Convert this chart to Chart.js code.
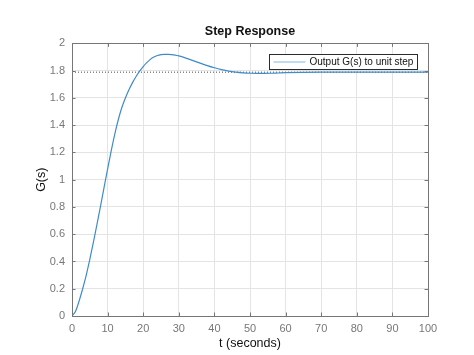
<!DOCTYPE html>
<html>
<head>
<meta charset="utf-8">
<script src="https://cdn.jsdelivr.net/npm/chart.js@4/dist/chart.umd.min.js"></script>
<style>
html,body{margin:0;padding:0;background:#fff;}
#wrap{position:relative;width:474px;height:355px;}
</style>
</head>
<body>
<div id="wrap"><canvas id="c" width="474" height="355"></canvas></div>
<script>
// ---- data ----
const chartTitle = "Step Response";
const xTitle = "t (seconds)";
const yTitle = "G(s)";
const seriesLabel = "Output G(s) to unit step";
const timeValues = [0,1,2,3,4,5,6,7,8,9,10,11,12,13,14,15,16,17,18,19,20,21,22,23,24,25,26,27,28,29,30,32,34,36,38,40,42,44,46,48,50,52,54,56,58,60,65,70,75,80,85,90,95,100];
const responseValues = [0,0.035,0.11,0.2,0.3,0.415,0.54,0.67,0.805,0.942,1.078,1.21,1.333,1.44,1.53,1.6,1.66,1.712,1.757,1.796,1.83,1.859,1.883,1.9,1.911,1.917,1.92,1.92,1.918,1.914,1.908,1.892,1.874,1.855,1.837,1.821,1.807,1.796,1.789,1.784,1.781,1.78,1.78,1.781,1.783,1.785,1.788,1.789,1.789,1.789,1.789,1.789,1.789,1.789];
const steadyState = 1.789;
const xTicks = [0,10,20,30,40,50,60,70,80,90,100];
const yTicks = [0,0.2,0.4,0.6,0.8,1,1.2,1.4,1.6,1.8,2];

const curve = timeValues.map((t,i)=>({x:t,y:responseValues[i]}));
const ssLine = [{x:xTicks[0],y:steadyState},{x:xTicks[xTicks.length-1],y:steadyState}];

const boxPlugin = {
  id:'matlabBox',
  afterDraw(chart){
    const {ctx, chartArea:a, scales} = chart;
    ctx.save();
    ctx.strokeStyle = '#767676';
    ctx.lineWidth = 1;
    ctx.strokeRect(Math.round(a.left)+0.5, Math.round(a.top)+0.5, Math.round(a.right-a.left), Math.round(a.bottom-a.top));
    const L = 3.5;
    ctx.beginPath();
    xTicks.forEach(v=>{
      const px = Math.round(scales.x.getPixelForValue(v))+0.5;
      ctx.moveTo(px,a.bottom); ctx.lineTo(px,a.bottom-L);
      ctx.moveTo(px,a.top); ctx.lineTo(px,a.top+L);
    });
    yTicks.forEach(v=>{
      const py = Math.round(scales.y.getPixelForValue(v))+0.5;
      ctx.moveTo(a.left,py); ctx.lineTo(a.left+L,py);
      ctx.moveTo(a.right,py); ctx.lineTo(a.right-L,py);
    });
    ctx.stroke();
    // legend
    const lw = 148, lh = 15;
    const lx = Math.round(a.right - 11 - lw)+0.5, ly = Math.round(a.top + 11)+0.5;
    ctx.fillStyle = '#fff';
    ctx.fillRect(lx, ly, lw, lh);
    ctx.strokeStyle = '#2b2b2b';
    ctx.strokeRect(lx, ly, lw, lh);
    ctx.strokeStyle = '#86b8e0';
    ctx.lineWidth = 1.2;
    ctx.beginPath();
    ctx.moveTo(lx+4, ly+lh/2); ctx.lineTo(lx+36, ly+lh/2);
    ctx.stroke();
    ctx.fillStyle = '#111';
    ctx.font = '10px "Liberation Sans", Arial, sans-serif';
    ctx.textBaseline = 'middle';
    ctx.textAlign = 'left';
    ctx.fillText(seriesLabel, lx+40, ly+lh/2+0.5);
    ctx.restore();
  }
};

new Chart(document.getElementById('c'), {
  type:'line',
  data:{
    datasets:[
      {label:seriesLabel, data:curve, borderColor:'#3f8cc9', borderWidth:1.2, pointRadius:0, cubicInterpolationMode:'monotone', fill:false, order:1},
      {label:'steady state', data:ssLine, borderColor:'#4a4a4a', borderWidth:1, borderDash:[1,2], pointRadius:0, fill:false, order:2}
    ]
  },
  options:{
    responsive:false,
    animation:false,
    devicePixelRatio:1,
    layout:{padding:{left:0,right:46,top:0,bottom:0}},
    plugins:{
      legend:{display:false},
      tooltip:{enabled:false},
      title:{display:true, text:chartTitle, fullSize:false, color:'#111',
        font:{family:'"Liberation Sans", Arial, sans-serif', size:12.5, weight:'bold'},
        padding:{top:24,bottom:4.4}}
    },
    scales:{
      x:{type:'linear', min:0, max:100,
        afterBuildTicks(s){ s.ticks = xTicks.map(v=>({value:v})); },
        afterFit(s){ s.height = 39; },
        grid:{color:'#e4e4e4', drawTicks:false},
        border:{display:false},
        ticks:{color:'#777', padding:6, maxRotation:0, font:{family:'"Liberation Sans", Arial, sans-serif', size:11}},
        title:{display:true, text:xTitle, color:'#111', padding:{top:0,bottom:4},
          font:{family:'"Liberation Sans", Arial, sans-serif', size:12.5}}
      },
      y:{type:'linear', min:0, max:2,
        afterBuildTicks(s){ s.ticks = yTicks.map(v=>({value:v})); },
        afterFit(s){ s.width = 72; },
        grid:{color:'#e4e4e4', drawTicks:false},
        border:{display:false},
        ticks:{color:'#777', padding:7, font:{family:'"Liberation Sans", Arial, sans-serif', size:11},
          callback:(v)=>String(Number(v.toFixed(1)))},
        title:{display:true, text:yTitle, color:'#111', padding:{top:34,bottom:0},
          font:{family:'"Liberation Sans", Arial, sans-serif', size:12.5}}
      }
    }
  },
  plugins:[boxPlugin]
});
</script>
</body>
</html>
